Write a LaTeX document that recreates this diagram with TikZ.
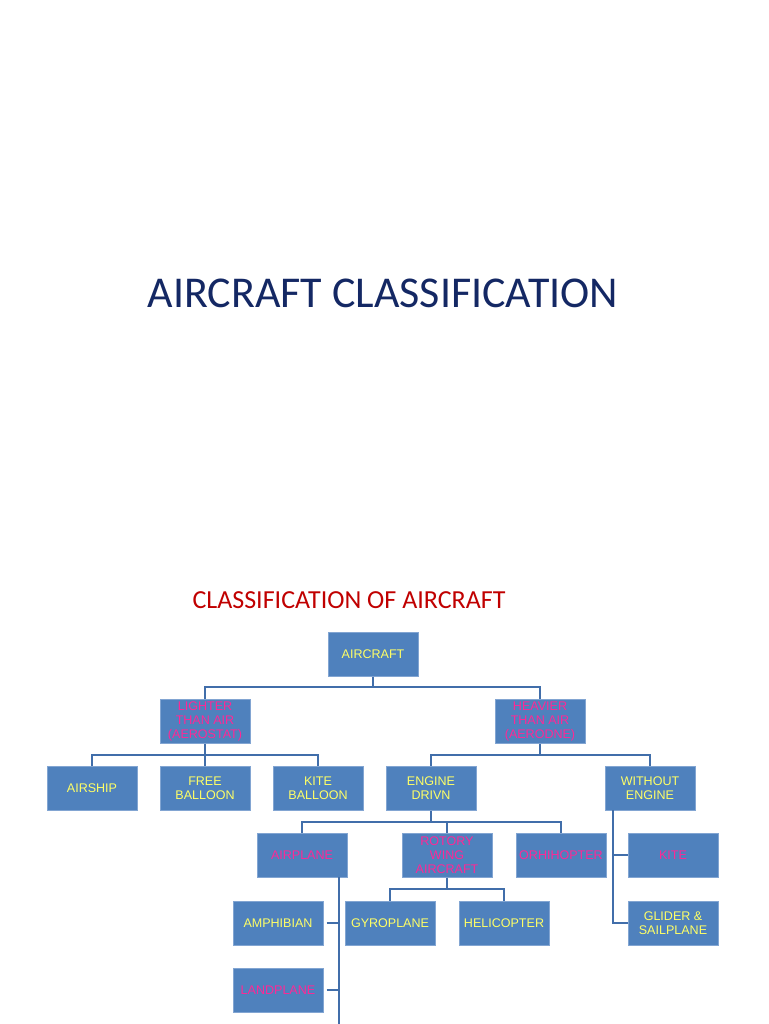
\documentclass[tikz,border=0pt]{standalone}
\usepackage{fontspec}
\setmainfont{Carlito}
\newfontfamily\boxfont{Liberation Sans}
\definecolor{boxblue}{RGB}{79,129,189}
\definecolor{boxedge}{RGB}{130,165,210}
\definecolor{linkblue}{RGB}{65,110,170}
\definecolor{txtyellow}{RGB}{255,255,102}
\definecolor{txtpink}{RGB}{255,40,150}
\definecolor{titleblue}{RGB}{20,40,100}
\definecolor{subred}{RGB}{192,0,0}
\tikzset{every picture/.style={line width=0.75pt},
  catbox/.style={draw=boxedge,fill=boxblue,minimum width=67.5pt,minimum height=33pt,inner sep=0pt,align=center,font=\boxfont\fontsize{9.4}{10.5}\selectfont},
  yel/.style={catbox,text=txtyellow},
  pnk/.style={catbox,text=txtpink},
  link/.style={draw=linkblue,line width=2.2pt}}
\begin{document}
\begin{tikzpicture}[x=0.75pt,y=0.75pt,yscale=-1,xscale=1]
\useasboundingbox (0,0) rectangle (768,1024);

% Titles
\node (title) at (383,293) {\fontsize{33}{38}\selectfont\color{titleblue}AIRCRAFT CLASSIFICATION};
\node (subtitle) at (349,600) {\fontsize{19.5}{23}\selectfont\color{subred}CLASSIFICATION OF AIRCRAFT};

% Boxes
\node [yel] (aircraft) at (373,654) {AIRCRAFT};
\node [pnk] (lighter) at (205,721) {LIGHTER\\THAN AIR\\(AEROSTAT)};
\node [pnk] (heavier) at (540,721) {HEAVIER\\THAN AIR\\(AERODNE)};
\node [yel] (airship) at (92,788) {AIRSHIP};
\node [yel] (free) at (205,788) {FREE\\BALLOON};
\node [yel] (kiteb) at (318,788) {KITE\\BALLOON};
\node [yel] (engine) at (431,788) {ENGINE\\DRIVN};
\node [yel] (without) at (650,788) {WITHOUT\\ENGINE};
\node [pnk] (airplane) at (302,855) {AIRPLANE};
\node [pnk] (rotory) at (447,855) {ROTORY\\WING\\AIRCRAFT};
\node [pnk] (ornitho) at (561,855) {ORHIHOPTER};
\node [pnk] (kite) at (673,855) {KITE};
\node [yel] (glider) at (673,923) {GLIDER \&\\SAILPLANE};
\node [yel] (gyro) at (390,923) {GYROPLANE};
\node [yel] (heli) at (504,923) {HELICOPTER};
\node [yel] (amphi) at (278,923) {AMPHIBIAN};
\node [pnk] (land) at (278,990) {LANDPLANE};

% Connectors
\coordinate (busA) at (373,687);
\draw [link] (aircraft.south) -- (busA);
\draw [link] (lighter.north) |- (busA) -| (heavier.north);
\coordinate (busL) at (205,755);
\draw [link] (lighter.south) -- (busL);
\draw [link] (airship.north) |- (busL) -| (kiteb.north);
\draw [link] (free.north) -- (busL);
\coordinate (busH) at (540,755);
\draw [link] (heavier.south) -- (busH);
\draw [link] (engine.north) |- (busH) -| (without.north);
\coordinate (busE) at (431,822);
\draw [link] (engine.south) -- (busE);
\draw [link] (airplane.north) |- (busE) -| (ornitho.north);
\draw [link] (rotory.north) -- (rotory.north |- busE);
\coordinate (busR) at (447,889);
\draw [link] (rotory.south) -- (busR);
\draw [link] (gyro.north) |- (busR) -| (heli.north);
\coordinate (stemW) at (613,810);
\draw [link] (stemW) |- (glider.west);
\draw [link] (stemW |- kite.west) -- (kite.west);
\coordinate (stemP) at (339,877);
\coordinate (stemPend) at (339,1024);
\draw [link] (stemP) -- (stemPend);
\draw [link] (amphi.east) ++(3,0) -- (stemP |- amphi.east);
\draw [link] (land.east) ++(3,0) -- (stemP |- land.east);

\end{tikzpicture}
\end{document}
